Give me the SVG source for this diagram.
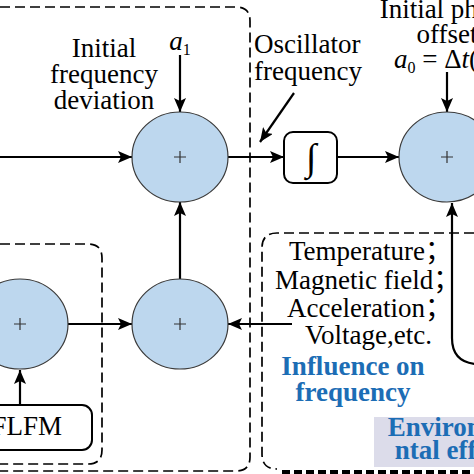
<svg xmlns="http://www.w3.org/2000/svg" width="474" height="474" viewBox="0 0 474 474">
<defs>
<marker id="ahb" viewBox="0 0 14 12" refX="14" refY="6" markerWidth="14" markerHeight="12" markerUnits="userSpaceOnUse" orient="auto">
<path d="M0,0 L14,6 L0,12 L3,6 Z" fill="#000"/>
</marker>
</defs>
<style>
.t{font-family:"Liberation Serif","Times New Roman","Noto Sans CJK SC",serif;font-size:27px;fill:#000}
.b{font-family:"Liberation Serif","Times New Roman",serif;font-size:27px;font-weight:bold;fill:#1c6db5}
.c{fill:#bdd7ee;stroke:#3a3a3a;stroke-width:1.2}
.p{stroke:#333;stroke-width:1.2}
.d{fill:none;stroke:#000;stroke-width:1.7;stroke-dasharray:10 5}
.w{fill:none;stroke:#000;stroke-width:2.2}
.box{fill:#fff;stroke:#000;stroke-width:2}
.int{font-family:"Liberation Serif","Times New Roman",serif;font-size:38px;font-style:italic;fill:#000}
</style>
<rect width="474" height="474" fill="#fff"/>

<g id="regions">
<path class="d" d="M0,7 H236 Q250,7 250,21 V457 Q250,471 236,471 H0"/>
<path class="d" d="M0,244 H88 Q102,244 102,258 V450 Q102,464 88,464 H0"/>
<path class="d" d="M474,233 H277 Q262,233 262,248 V454 Q262,469 277,469"/>
<rect x="374" y="417" width="100" height="50" fill="#dcdcea"/>
<path d="M282,472 H474" fill="none" stroke="#000" stroke-width="4" stroke-dasharray="8 4"/>
</g>

<g id="connectors">
<path class="w" d="M0,157 H132" marker-end="url(#ahb)"/>
<path class="w" d="M180,55 V112" marker-end="url(#ahb)"/>
<path class="w" d="M228,157 H284" marker-end="url(#ahb)"/>
<path class="w" d="M337,157 H399" marker-end="url(#ahb)"/>
<path class="w" d="M447,72 V112" marker-end="url(#ahb)"/>
<path class="w" d="M294,93 L260,142" marker-end="url(#ahb)"/>
<path class="w" d="M180,279 V202" marker-end="url(#ahb)"/>
<path class="w" d="M68,324 H132" marker-end="url(#ahb)"/>
<path class="w" d="M292,324 H228" marker-end="url(#ahb)"/>
<path class="w" d="M20,405 V370" marker-end="url(#ahb)"/>
<path class="w" d="M476,364 Q452,362 452,338 V203" marker-end="url(#ahb)"/>
</g>

<g id="sum1"><ellipse class="c" cx="180" cy="157" rx="48" ry="45"/><path class="p" d="M174,157 H186 M180,151 V163"/></g>
<g id="sum2"><ellipse class="c" cx="447" cy="157" rx="48" ry="45"/><path class="p" d="M441,157 H453 M447,151 V163"/></g>
<g id="sum3"><ellipse class="c" cx="180" cy="324" rx="48" ry="45"/><path class="p" d="M174,324 H186 M180,318 V330"/></g>
<g id="sum4"><ellipse class="c" cx="20" cy="324" rx="48" ry="45"/><path class="p" d="M14,324 H26 M20,318 V330"/></g>

<g id="integrator">
<rect class="box" x="284" y="132" width="53" height="51" rx="9"/>
<text class="int" x="311" y="170" text-anchor="middle">∫</text>
</g>

<g id="flfm">
<rect class="box" x="-20" y="405" width="112" height="45" rx="10"/>
<text class="t" x="62" y="435" text-anchor="end">FLFM</text>
</g>

<g id="labels">
<text class="t" text-anchor="middle"><tspan x="104" y="57">Initial</tspan><tspan x="104" y="83">frequency</tspan><tspan x="104" y="109">deviation</tspan></text>
<text class="t" x="180" y="50" text-anchor="middle" font-style="italic">a<tspan font-size="16" font-style="normal" dy="5">1</tspan></text>
<text class="t"><tspan x="254" y="53">Oscillator</tspan><tspan x="254" y="80">frequency</tspan></text>
<text class="t" text-anchor="middle"><tspan x="446" y="18">Initial phase</tspan><tspan x="447" y="43">offset</tspan></text>
<text class="t" x="394" y="68"><tspan font-style="italic">a</tspan><tspan font-size="16" dy="5">0</tspan><tspan dy="-5"> = Δ</tspan><tspan font-style="italic">t</tspan>(0)</text>
<text class="t" x="289" y="260">Temperature；</text>
<text class="t" x="275" y="289">Magnetic field；</text>
<text class="t" x="287" y="317">Acceleration；</text>
<text class="t" x="305" y="344">Voltage,etc.</text>
<text class="b" text-anchor="middle"><tspan x="353" y="375">Influence on</tspan><tspan x="353" y="401">frequency</tspan></text>
<text class="b" text-anchor="middle"><tspan x="452" y="436">Environme</tspan><tspan x="452" y="459">ntal effect</tspan></text>
</g>
</svg>
